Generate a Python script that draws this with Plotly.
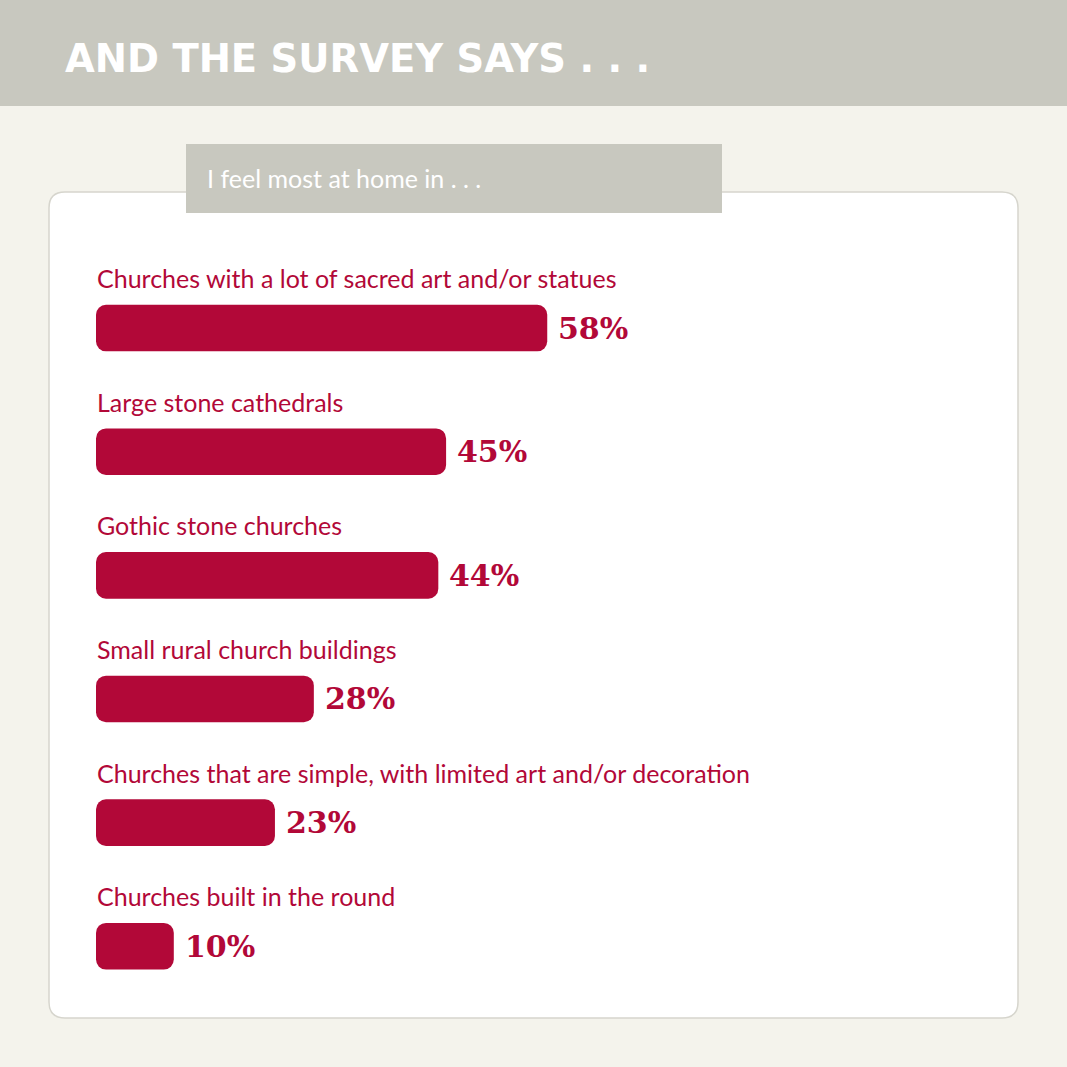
import plotly.graph_objects as go

categories = [
    "Churches with a lot of sacred art and/or statues",
    "Large stone cathedrals",
    "Gothic stone churches",
    "Small rural church buildings",
    "Churches that are simple, with limited art and/or decoration",
    "Churches built in the round",
]
values = [58, 45, 44, 28, 23, 10]
value_labels = ["58%", "45%", "44%", "28%", "23%", "10%"]

title_text = "AND THE SURVEY SAYS . . ."
subtitle_text = "I feel most at home in . . ."

W = H = 1067
BG = "#f4f3ec"
GREY = "#c8c8bf"
RED = "#b20838"

def px(x):
    return x / W

def py(y):
    return 1 - y / H

def rounded_rect(x0, y0, x1, y1, r):
    X0, X1 = px(x0), px(x1)
    Y0, Y1 = py(y0), py(y1)
    rx, ry = r / W, r / H
    return (f"M {X0+rx},{Y0} L {X1-rx},{Y0} Q {X1},{Y0} {X1},{Y0-ry} "
            f"L {X1},{Y1+ry} Q {X1},{Y1} {X1-rx},{Y1} L {X0+rx},{Y1} "
            f"Q {X0},{Y1} {X0},{Y1+ry} L {X0},{Y0-ry} Q {X0},{Y0} {X0+rx},{Y0} Z")

fig = go.Figure()
# an explicit base makes plotly round both ends of each bar
fig.add_trace(go.Bar(
    y=categories, x=values, base=[0] * len(values), orientation="h",
    marker=dict(color=RED, line=dict(width=0)), hoverinfo="skip",
))

shapes = [
    dict(type="rect", xref="paper", yref="paper", x0=0, x1=1, y0=py(106), y1=1,
         fillcolor=GREY, line=dict(width=0), layer="below"),
    dict(type="path", xref="paper", yref="paper", path=rounded_rect(49, 192, 1018, 1018, 16),
         fillcolor="white", line=dict(color="#d6d5cd", width=1.5), layer="below"),
    dict(type="rect", xref="paper", yref="paper", x0=px(186), x1=px(722), y0=py(213), y1=py(144),
         fillcolor=GREY, line=dict(width=0), layer="below"),
]

annotations = [
    dict(text=f"<b>{title_text}</b>", xref="paper", yref="paper", x=px(63), y=py(59),
         xanchor="left", yanchor="middle", showarrow=False,
         font=dict(family="DejaVu Sans", size=38.5, color="white")),
    dict(text=subtitle_text, xref="paper", yref="paper", x=px(205), y=py(178),
         xanchor="left", yanchor="middle", showarrow=False,
         font=dict(family="Lato", size=25, color="white")),
]
for cat, v, lab in zip(categories, values, value_labels):
    annotations.append(dict(text=cat, x=0, y=cat, xref="x", yref="y", xanchor="left",
                            yanchor="middle", yshift=50, xshift=-1, showarrow=False,
                            font=dict(family="Lato", size=25, color=RED)))
    annotations.append(dict(text=f"<b>{lab}</b>", x=v, y=cat, xref="x", yref="y",
                            xanchor="left", yanchor="middle", xshift=9, yshift=0,
                            showarrow=False,
                            font=dict(family="DejaVu Serif", size=30, color=RED)))

fig.update_layout(
    width=W, height=H, margin=dict(l=0, r=0, t=0, b=0),
    paper_bgcolor=BG, plot_bgcolor="rgba(0,0,0,0)",
    showlegend=False, bargap=0.623, barcornerradius=10,
    shapes=shapes, annotations=annotations,
    xaxis=dict(domain=[px(96), px(96 + 778)], range=[0, 100], visible=False, fixedrange=True),
    yaxis=dict(domain=[py(1013.25), py(266.25)], autorange="reversed", visible=False,
               categoryorder="array", categoryarray=categories, fixedrange=True),
)

fig.write_html("out.html")
